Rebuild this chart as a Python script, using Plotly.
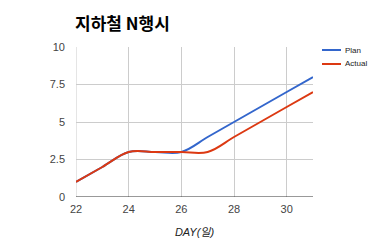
import plotly.graph_objects as go

days = [22, 23, 24, 25, 26, 27, 28, 29, 30, 31]
plan = [1, 2, 3, 3, 3, 4, 5, 6, 7, 8]
actual = [1, 2, 3, 3, 3, 3, 4, 5, 6, 7]
x_ticks = [22, 24, 26, 28, 30]
y_ticks = [0, 2.5, 5, 7.5, 10]
y_tick_labels = ["0", "2.5", "5", "7.5", "10"]
series_names = ["Plan", "Actual"]
series_colors = ["#3366cc", "#dc3912"]

FONT = "Arial, Liberation Sans, Noto Sans CJK KR, sans-serif"

fig = go.Figure()
for name, vals, col in zip(series_names, [plan, actual], series_colors):
    fig.add_trace(go.Scatter(x=days, y=vals, name=name, mode="lines",
                             line=dict(color=col, width=2, shape="spline", smoothing=1)))

fig.update_layout(
    width=389, height=245,
    margin=dict(l=76, r=76, t=47, b=48, autoexpand=False),
    paper_bgcolor="white", plot_bgcolor="white",
    font=dict(family=FONT, size=11, color="#444444"),
    title=dict(text="<b>지하철 N행시</b>", x=75/389, xanchor="left", y=1-24/245, yanchor="middle",
               font=dict(family="Noto Sans CJK KR, Arial, sans-serif", size=17, color="#000000")),
    showlegend=False,
    xaxis=dict(range=[22, 31], tickvals=x_ticks, ticktext=[str(v) for v in x_ticks],
               showgrid=True, gridcolor="#cccccc", gridwidth=1, zeroline=False, automargin=False,
               showline=False, ticks="", ticklabelstandoff=4, tickfont=dict(size=11, color="#444444"),
               title=dict(text="<i>DAY(일)</i>", font=dict(size=11, color="#222222"), standoff=14)),
    yaxis=dict(range=[0, 10], tickvals=y_ticks, ticktext=y_tick_labels, automargin=False,
               showgrid=True, gridcolor="#cccccc", gridwidth=1, zeroline=False,
               showline=False, ticks="", ticklabelstandoff=10,
               tickfont=dict(size=11, color="#444444")),
)
fig.add_shape(type="line", xref="x", yref="paper", x0=22, x1=22, y0=0, y1=1,
              line=dict(color="#cccccc", width=1), layer="below")
fig.add_shape(type="line", xref="paper", yref="y", x0=0, x1=1, y0=0, y1=0,
              line=dict(color="#333333", width=1))

# legend drawn manually (compact, like the reference)
for i, (name, col) in enumerate(zip(series_names, series_colors)):
    ypix = 50 + i * 14
    fig.add_shape(type="line", xref="paper", yref="paper",
                  x0=(322 - 76) / 237, x1=(341 - 76) / 237,
                  y0=(197 - ypix) / 150, y1=(197 - ypix) / 150,
                  line=dict(color=col, width=2))
    fig.add_annotation(text=name, xref="paper", yref="paper",
                       x=(343 - 76) / 237, y=(197 - ypix) / 150,
                       xanchor="left", yanchor="middle", showarrow=False,
                       font=dict(size=8, color="#222222"))

fig.write_html("out.html")
